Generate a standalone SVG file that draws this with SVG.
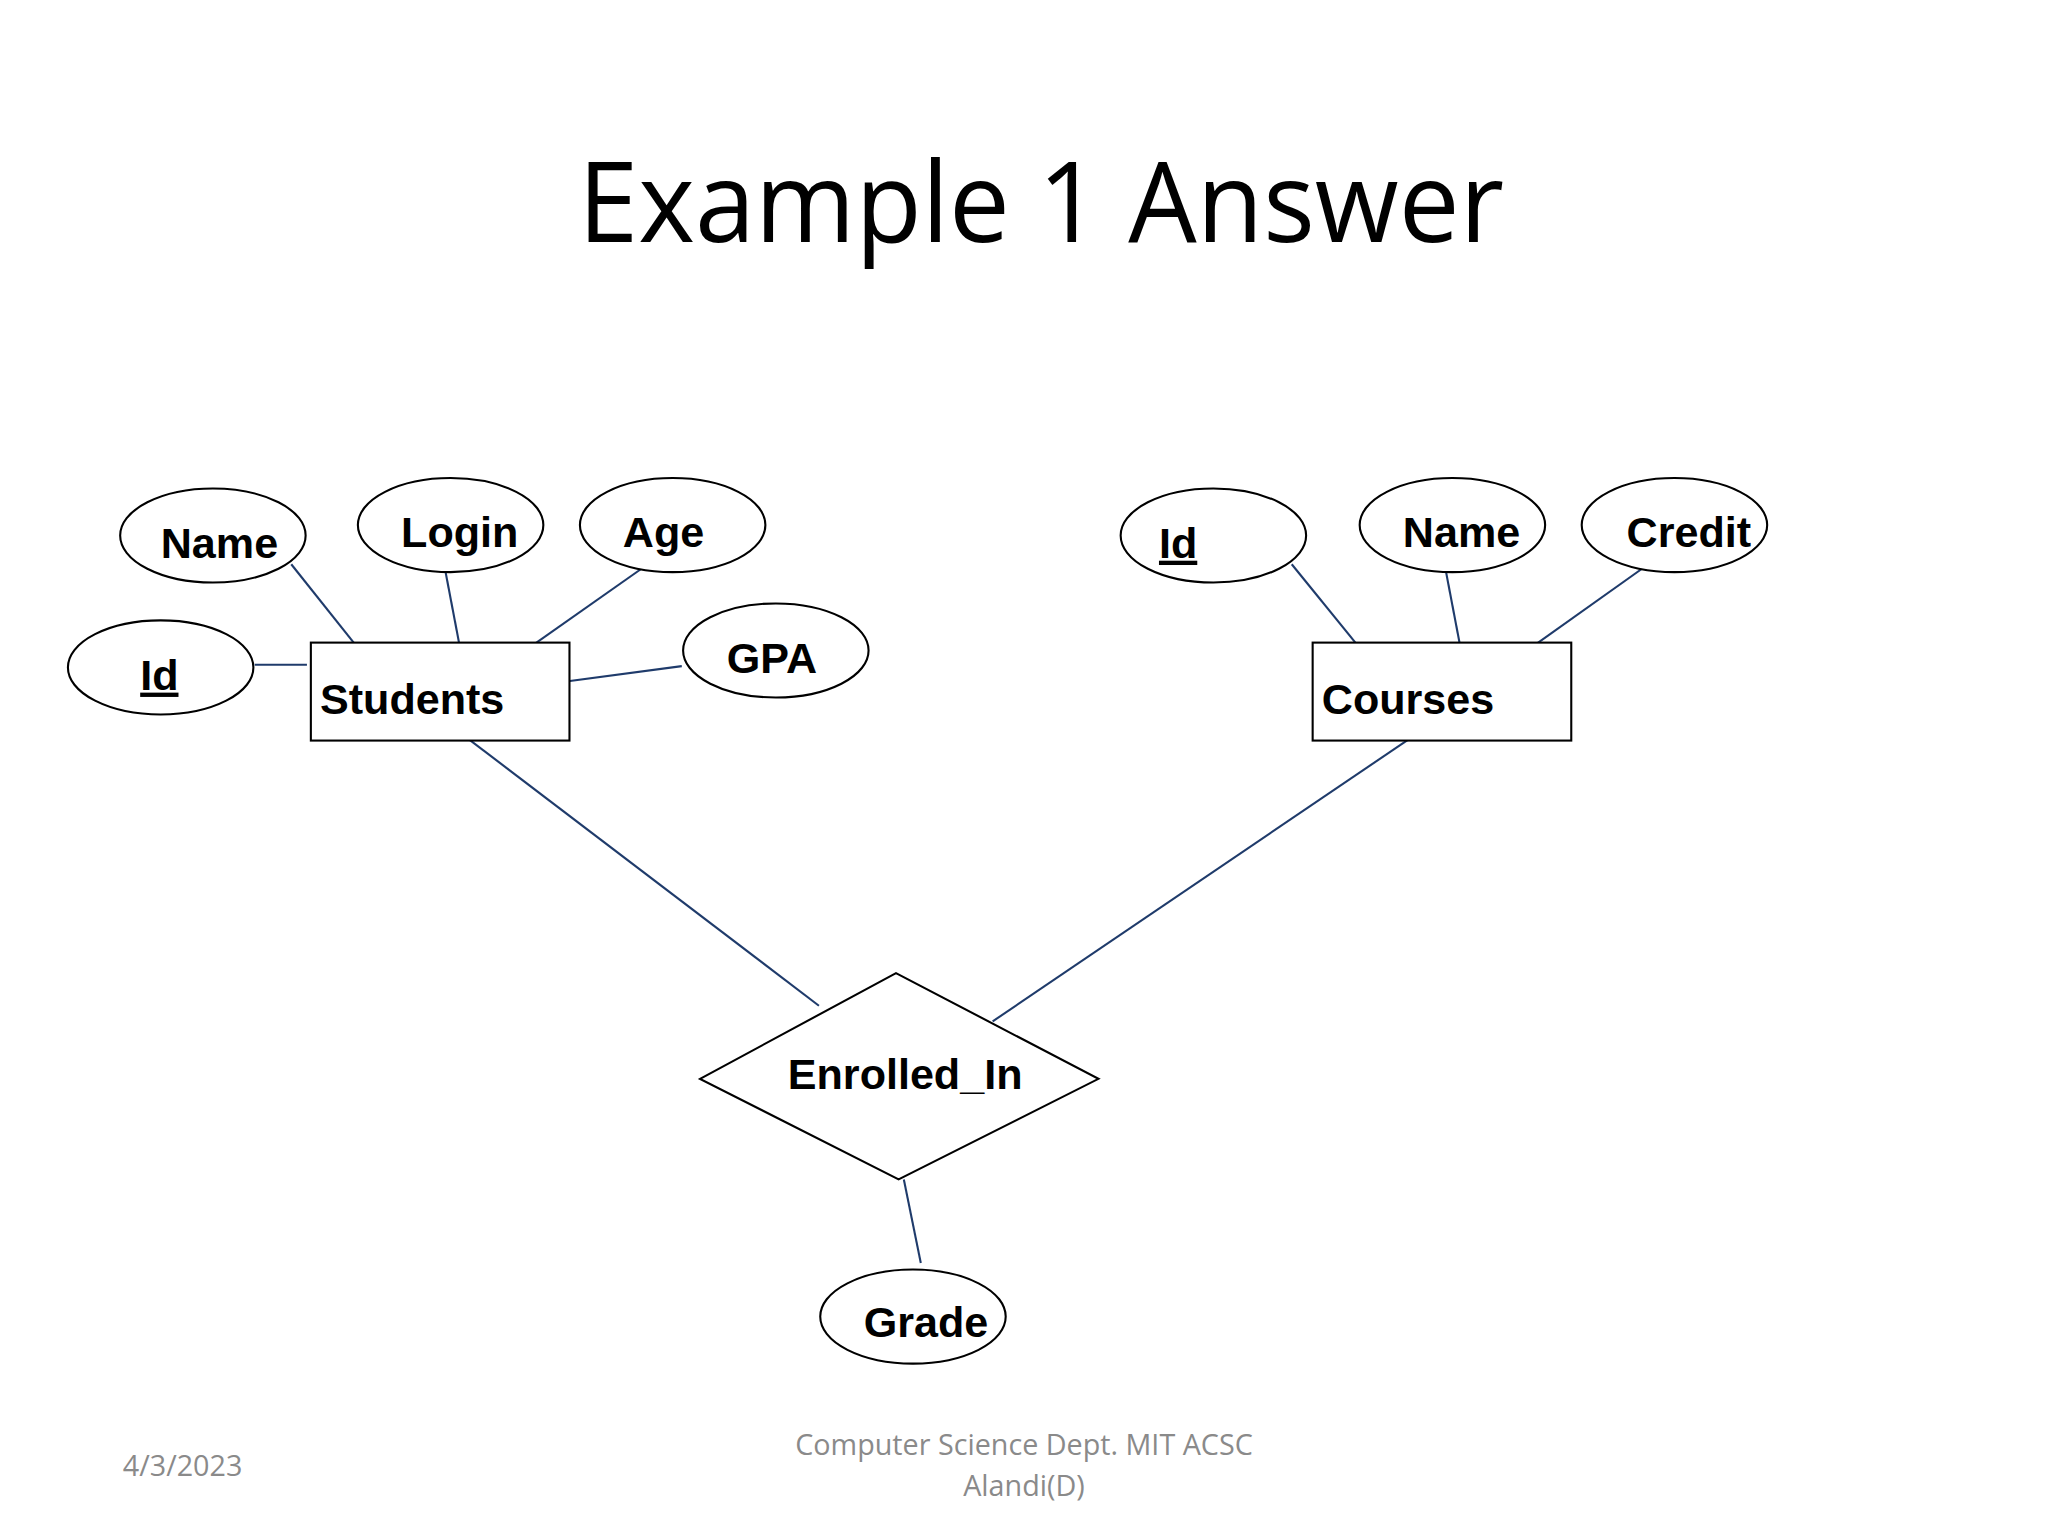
<svg xmlns="http://www.w3.org/2000/svg" width="2048" height="1536" viewBox="0 0 2048 1536">
<style>
.e{fill:#fff;stroke:#000;stroke-width:1.6}
.l{stroke:#1f3b6b;stroke-width:1.6;fill:none}
.t{font-family:"Liberation Sans",Arial,sans-serif;font-weight:bold;font-size:33px;fill:#000}
.f{font-family:"Open Sans","Liberation Sans",sans-serif;font-size:22px;fill:#8a8a8a}
</style>
<rect width="2048" height="1536" fill="#fff"/>
<g transform="scale(1.30612)">
<text x="797" y="185" text-anchor="middle" font-family="Open Sans, Liberation Sans, sans-serif" font-size="86" textLength="709" lengthAdjust="spacingAndGlyphs">Example 1 Answer</text>
<g id="connectors">
<line class="l" x1="223" y1="432" x2="274" y2="496"/>
<line class="l" x1="340" y1="432" x2="352" y2="495"/>
<line class="l" x1="496" y1="432" x2="405" y2="496"/>
<line class="l" x1="195" y1="509" x2="235" y2="509"/>
<line class="l" x1="522" y1="510" x2="432" y2="522"/>
<line class="l" x1="355" y1="563" x2="627" y2="770"/>
<line class="l" x1="1083" y1="563" x2="760" y2="782"/>
<line class="l" x1="989" y1="432" x2="1041" y2="496"/>
<line class="l" x1="1106" y1="432" x2="1118" y2="495"/>
<line class="l" x1="1262" y1="432" x2="1172" y2="496"/>
<line class="l" x1="692" y1="903" x2="705" y2="967"/>
</g>
<g id="students"><rect class="e" x="238" y="492" width="198" height="75"/><text class="t" x="245" y="547">Students</text></g>
<g id="courses"><rect class="e" x="1005" y="492" width="198" height="75"/><text class="t" x="1012" y="547">Courses</text></g>
<g id="enrolled"><polygon class="e" points="536,826 686,745 841,826 688,903"/><text class="t" x="693" y="834" text-anchor="middle">Enrolled_In</text></g>
<g id="s-name"><ellipse class="e" cx="163" cy="410" rx="71" ry="36"/><text class="t" x="168" y="427" text-anchor="middle">Name</text></g>
<g id="s-login"><ellipse class="e" cx="345" cy="402" rx="71" ry="36"/><text class="t" x="352" y="419" text-anchor="middle">Login</text></g>
<g id="s-age"><ellipse class="e" cx="515" cy="402" rx="71" ry="36"/><text class="t" x="508" y="419" text-anchor="middle">Age</text></g>
<g id="s-id"><ellipse class="e" cx="123" cy="511" rx="71" ry="36"/><text class="t" x="122" y="528" text-anchor="middle" text-decoration="underline">Id</text></g>
<g id="s-gpa"><ellipse class="e" cx="594" cy="498" rx="71" ry="36"/><text class="t" x="591" y="515" text-anchor="middle">GPA</text></g>
<g id="c-id"><ellipse class="e" cx="929" cy="410" rx="71" ry="36"/><text class="t" x="902" y="427" text-anchor="middle" text-decoration="underline">Id</text></g>
<g id="c-name"><ellipse class="e" cx="1112" cy="402" rx="71" ry="36"/><text class="t" x="1119" y="419" text-anchor="middle">Name</text></g>
<g id="c-credit"><ellipse class="e" cx="1282" cy="402" rx="71" ry="36"/><text class="t" x="1293" y="419" text-anchor="middle">Credit</text></g>
<g id="grade"><ellipse class="e" cx="699" cy="1008" rx="71" ry="36"/><text class="t" x="709" y="1024" text-anchor="middle">Grade</text></g>
<text class="f" x="94" y="1130">4/3/2023</text>
<text class="f" x="784" y="1114" text-anchor="middle">Computer Science Dept. MIT ACSC</text>
<text class="f" x="784" y="1145" text-anchor="middle">Alandi(D)</text>
</g>
</svg>
